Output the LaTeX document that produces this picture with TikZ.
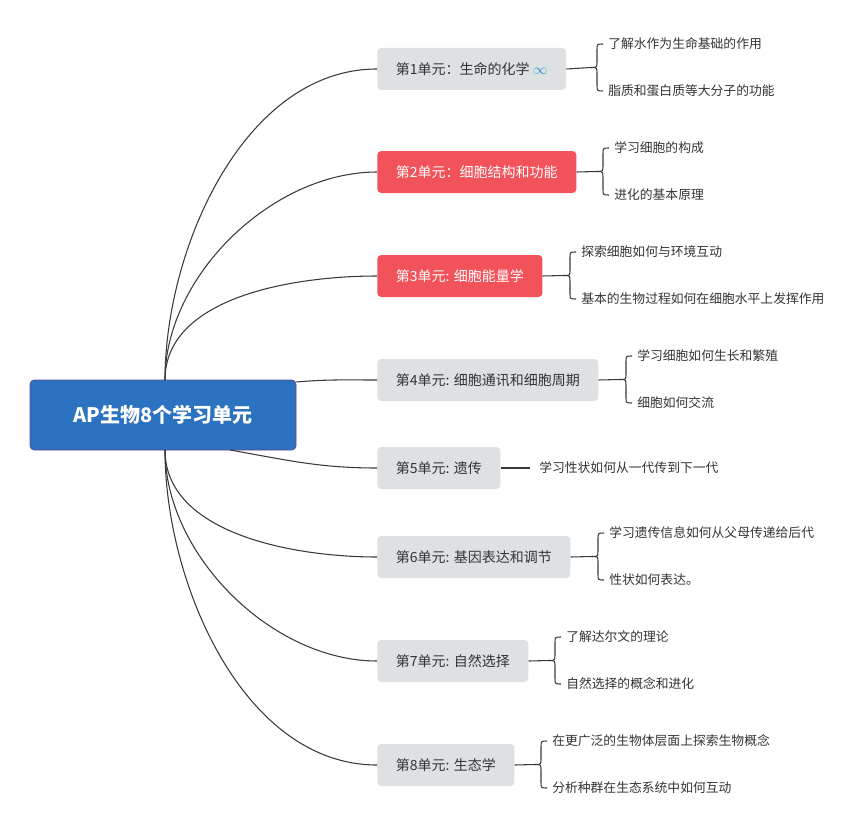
\documentclass[tikz,border=0pt]{standalone}
\usepackage{fontspec}
\setmainfont{Noto Sans CJK SC}
\usetikzlibrary{calc}
\definecolor{unitgray}{HTML}{DDE1E3}
\definecolor{unitred}{HTML}{F2525A}
\definecolor{rootblue}{HTML}{2B72C0}
\definecolor{txt}{HTML}{333333}
\definecolor{ln}{HTML}{3A3A3A}
\tikzset{
  unit/.style={rounded corners=3pt, fill=unitgray, text=txt, anchor=west, minimum height=31.5pt, inner xsep=14pt, font=\fontsize{10.5pt}{12pt}\selectfont},
  redunit/.style={unit, fill=unitred, text=white},
  leaf/.style={anchor=west, text=txt, inner sep=0pt, font=\fontsize{9.6pt}{11pt}\selectfont},
  conn/.style={draw=ln, line width=0.8pt},
}
\newcommand{\brc}[4]{% box, x, y1, y2
  \draw[conn] (#1.east) -- (#2-6,{(#3+#4)/2}) .. controls (#2,{(#3+#4)/2}) .. (#2,{(#3+#4)/2-6}) -- (#2,#3+6) .. controls (#2,#3) .. (#2+6,#3);
  \draw[conn] (#2,{(#3+#4)/2+6}) -- (#2,#4-6) .. controls (#2,#4) .. (#2+6,#4);
  \draw[conn] (#2-6,{(#3+#4)/2}) .. controls (#2,{(#3+#4)/2}) .. (#2,{(#3+#4)/2+6});
}
\begin{document}
\begin{tikzpicture}[x=0.75pt,y=-0.75pt]
\useasboundingbox (0,0) rectangle (866,831);
\node[rounded corners=3pt, fill=rootblue, draw=rootblue!60!purple, text=white, minimum width=199.5pt, minimum height=52.5pt, font=\fontsize{15pt}{18pt}\selectfont\bfseries] (root) at (163,415) {AP生物8个学习单元};
\node[unit] (u1) at (377,69) {第1单元：生命的化学 \textcolor{rootblue!70!cyan}{$\infty$}};
\node[redunit] (u2) at (377,172) {第2单元：细胞结构和功能};
\node[redunit] (u3) at (377,276) {第3单元: 细胞能量学};
\node[unit] (u4) at (377,380) {第4单元: 细胞通讯和细胞周期};
\node[unit] (u5) at (377,468) {第5单元: 遗传};
\node[unit] (u6) at (377,557) {第6单元: 基因表达和调节};
\node[unit] (u7) at (377,661) {第7单元: 自然选择};
\node[unit] (u8) at (377,765) {第8单元: 生态学};
\coordinate (rt) at (165,380);
\coordinate (rb) at (165,450);
\foreach \u in {u1,u2,u3}{\draw[conn] (rt) to[out=90,in=180,looseness=0.9] (\u.west);}
\draw[conn] (root.east |- u4) ++(0,2) to[out=5,in=180] (u4.west);
\draw[conn] (230,450) to[out=-10,in=180] (u5.west);
\foreach \u in {u6,u7,u8}{\draw[conn] (rb) to[out=-90,in=180,looseness=0.9] (\u.west);}
\node[leaf] (l1a) at (608,44) {了解水作为生命基础的作用};
\node[leaf] (l1b) at (608,91) {脂质和蛋白质等大分子的功能};
\node[leaf] (l2a) at (614,148) {学习细胞的构成};
\node[leaf] (l2b) at (614,195) {进化的基本原理};
\node[leaf] (l3a) at (581,252) {探索细胞如何与环境互动};
\node[leaf] (l3b) at (581,299) {基本的生物过程如何在细胞水平上发挥作用};
\node[leaf] (l4a) at (637,356) {学习细胞如何生长和繁殖};
\node[leaf] (l4b) at (637,403) {细胞如何交流};
\node[leaf] (l5) at (539,468) {学习性状如何从一代传到下一代};
\node[leaf] (l6a) at (609,533) {学习遗传信息如何从父母传递给后代};
\node[leaf] (l6b) at (609,580) {性状如何表达。};
\node[leaf] (l7a) at (566,637) {了解达尔文的理论};
\node[leaf] (l7b) at (566,684) {自然选择的概念和进化};
\node[leaf] (l8a) at (552,741) {在更广泛的生物体层面上探索生物概念};
\node[leaf] (l8b) at (552,788) {分析种群在生态系统中如何互动};
\brc{u1}{597}{44}{91}
\brc{u2}{603}{148}{195}
\brc{u3}{570}{252}{299}
\brc{u4}{626}{356}{403}
\draw[conn] (u5.east) -- ([xshift=-7pt]l5.west);
\brc{u6}{598}{533}{580}
\brc{u7}{555}{637}{684}
\brc{u8}{541}{741}{788}
\end{tikzpicture}
\end{document}
